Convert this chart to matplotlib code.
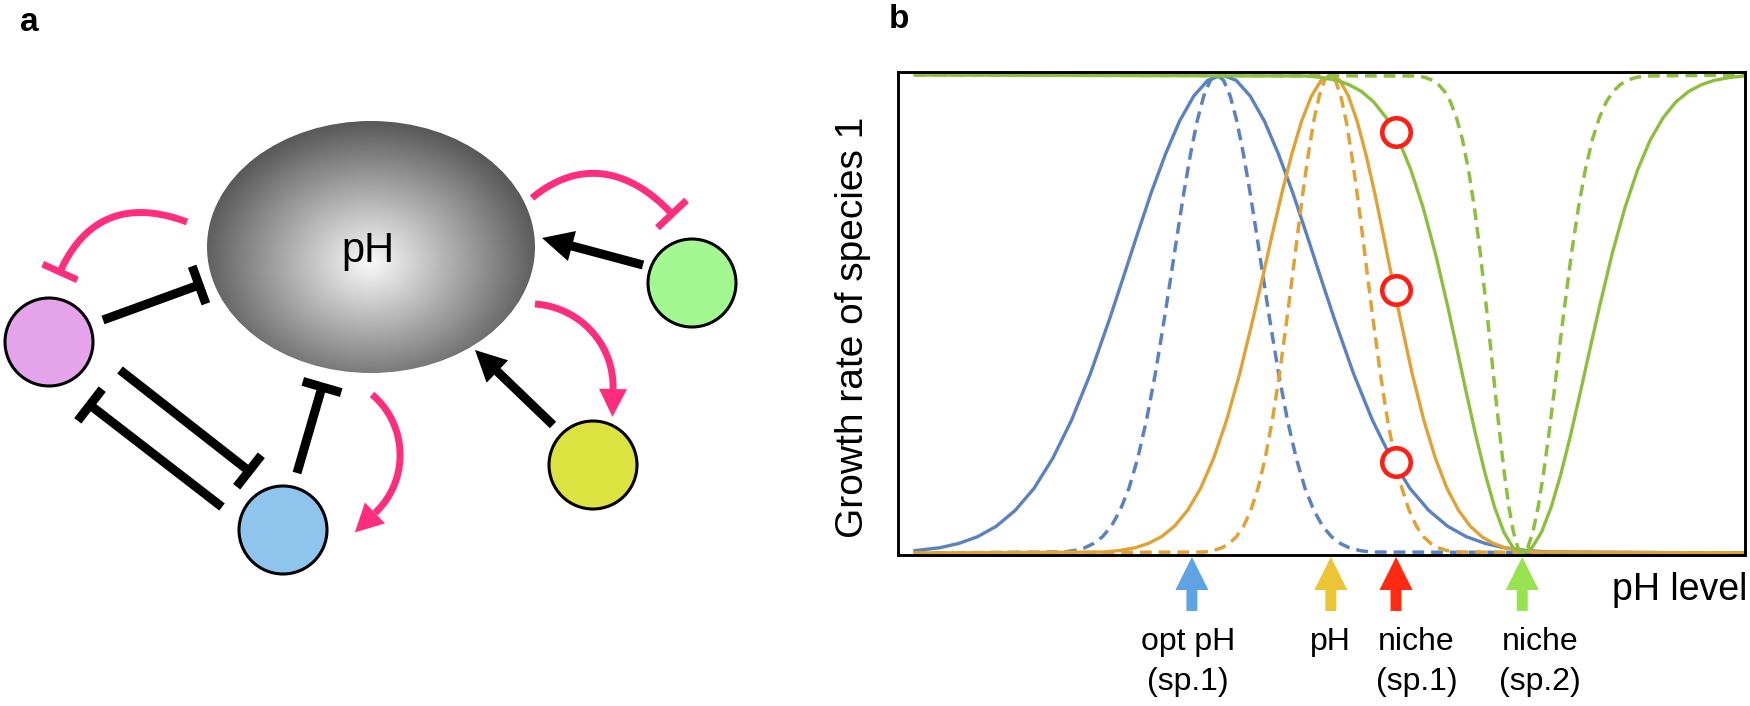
import numpy as np
import matplotlib
matplotlib.use("Agg")
import matplotlib.pyplot as plt
from matplotlib.patches import Ellipse, Circle, Polygon

plt.rcParams['font.family'] = ['Liberation Sans', 'DejaVu Sans']

## PANEL B CURVES (pH level in arbitrary units 0-10, growth rate 0-1)
# blue solid
bs_x = [0.2, 0.495, 0.717, 0.939, 1.161, 1.383, 1.605, 1.827, 2.049, 2.271, 2.493, 2.659, 2.826, 2.992, 3.159,
        3.325, 3.492, 3.658, 3.825, 3.992, 4.158, 4.325, 4.491, 4.658, 4.824, 4.991, 5.157, 5.379, 5.601,
        5.823, 6.045, 6.267, 6.489, 6.711, 6.933, 7.155, 7.433, 7.71, 10.0]
bs_y = [0.005, 0.011, 0.020, 0.034, 0.056, 0.089, 0.135, 0.198, 0.278, 0.375, 0.487, 0.576, 0.667, 0.755, 0.835,
        0.904, 0.956, 0.989, 1.0, 0.989, 0.956, 0.904, 0.835, 0.755, 0.667, 0.576, 0.487, 0.375, 0.278,
        0.198, 0.135, 0.089, 0.056, 0.034, 0.020, 0.011, 0.005, 0.002, 0.0]

# blue dashed
bd_x = [0.2, 1.946, 2.076, 2.206, 2.31, 2.414, 2.518, 2.622, 2.726, 2.83, 2.934, 3.038, 3.142, 3.22, 3.298,
        3.376, 3.454, 3.532, 3.61, 3.688, 3.766, 3.844, 3.922, 4.0, 4.078, 4.156, 4.234, 4.312, 4.39, 4.494,
        4.598, 4.702, 4.806, 4.91, 5.014, 5.118, 5.222, 5.326, 5.456, 5.586, 10.0]
bd_y = [0.0, 0.002, 0.005, 0.011, 0.020, 0.034, 0.056, 0.089, 0.135, 0.198, 0.278, 0.375, 0.487, 0.576, 0.667,
        0.755, 0.835, 0.904, 0.956, 0.989, 1.0, 0.989, 0.956, 0.904, 0.835, 0.755, 0.667, 0.576, 0.487, 0.375,
        0.278, 0.198, 0.135, 0.089, 0.056, 0.034, 0.020, 0.011, 0.005, 0.002, 0.0]

# orange solid
os_x = [0.2, 2.417, 2.61, 2.802, 2.956, 3.11, 3.264, 3.418, 3.572, 3.726, 3.88, 4.034, 4.188, 4.304, 4.419,
        4.535, 4.65, 4.766, 4.881, 4.997, 5.112, 5.215, 5.318, 5.42, 5.523, 5.626, 5.729, 5.831, 5.934, 6.071,
        6.208, 6.345, 6.482, 6.619, 6.756, 6.893, 7.03, 7.167, 7.338, 7.51, 10.0]
os_y = [0.0, 0.002, 0.005, 0.011, 0.020, 0.034, 0.056, 0.089, 0.135, 0.198, 0.278, 0.375, 0.487, 0.576, 0.667,
        0.755, 0.835, 0.904, 0.956, 0.989, 1.0, 0.989, 0.956, 0.904, 0.835, 0.755, 0.667, 0.576, 0.487, 0.375,
        0.278, 0.198, 0.135, 0.089, 0.056, 0.034, 0.020, 0.011, 0.005, 0.002, 0.0]

# orange dashed
od_x = [0.2, 3.613, 3.719, 3.825, 3.91, 3.995, 4.08, 4.165, 4.25, 4.335, 4.42, 4.505, 4.59, 4.654, 4.718,
        4.781, 4.845, 4.909, 4.973, 5.036, 5.10, 5.164, 5.228, 5.291, 5.355, 5.419, 5.483, 5.546, 5.61, 5.695,
        5.78, 5.865, 5.95, 6.035, 6.12, 6.205, 6.29, 6.375, 6.481, 6.588, 10.0]
od_y = [0.0, 0.002, 0.005, 0.011, 0.020, 0.034, 0.056, 0.089, 0.135, 0.198, 0.278, 0.375, 0.487, 0.576, 0.667,
        0.755, 0.835, 0.904, 0.956, 0.989, 1.0, 0.989, 0.956, 0.904, 0.835, 0.755, 0.667, 0.576, 0.487, 0.375,
        0.278, 0.198, 0.135, 0.089, 0.056, 0.034, 0.020, 0.011, 0.005, 0.002, 0.0]

# green solid
gs_x = [0.2, 4.81, 4.993, 5.176, 5.322, 5.469, 5.615, 5.762, 5.908, 6.054, 6.201, 6.347, 6.494, 6.603, 6.713,
        6.823, 6.933, 7.043, 7.152, 7.262, 7.372, 7.485, 7.599, 7.712, 7.826, 7.939, 8.052, 8.166, 8.279, 8.43,
        8.582, 8.733, 8.884, 9.035, 9.186, 9.338, 9.489, 9.64, 9.829, 10.0]
gs_y = [1.0, 0.998, 0.995, 0.989, 0.980, 0.966, 0.944, 0.911, 0.865, 0.802, 0.722, 0.625, 0.513, 0.424, 0.333,
        0.245, 0.165, 0.096, 0.044, 0.011, 0.0, 0.011, 0.044, 0.096, 0.165, 0.245, 0.333, 0.424, 0.513, 0.625,
        0.722, 0.802, 0.865, 0.911, 0.944, 0.966, 0.980, 0.989, 0.995, 0.998]

# green dashed
gd_x = [0.2, 6.133, 6.222, 6.31, 6.381, 6.452, 6.522, 6.593, 6.664, 6.735, 6.806, 6.876, 6.947, 7.0, 7.053,
        7.107, 7.16, 7.213, 7.266, 7.319, 7.372, 7.434, 7.496, 7.558, 7.62, 7.682, 7.744, 7.806, 7.868, 7.95,
        8.033, 8.115, 8.198, 8.281, 8.363, 8.446, 8.528, 8.611, 8.714, 8.818, 10.0]
gd_y = [1.0, 0.998, 0.995, 0.989, 0.980, 0.966, 0.944, 0.911, 0.865, 0.802, 0.722, 0.625, 0.513, 0.424, 0.333,
        0.245, 0.165, 0.096, 0.044, 0.011, 0.0, 0.011, 0.044, 0.096, 0.165, 0.245, 0.333, 0.424, 0.513, 0.625,
        0.722, 0.802, 0.865, 0.911, 0.944, 0.966, 0.980, 0.989, 0.995, 0.998, 1.0]

## RED NICHE CIRCLES
niche_x = 5.88
niche_y = [0.88, 0.55, 0.19]

## ARROWS UNDER THE AXIS
arrow_x = [3.47, 5.11, 5.88, 7.37]
arrow_colors = ['#5FA3E3', '#EBC536', '#FF2A12', '#97E352']
label_x = [3.42, 5.11, 6.12, 7.58]
label_top = ['opt pH', 'pH', 'niche', 'niche']
label_bottom = ['(sp.1)', '', '(sp.1)', '(sp.2)']

blue = '#5B82BF'
orange = '#DFA236'
green = '#8DBF3E'
red = '#FF1E14'
pink = '#FF2D7D'

fig = plt.figure(figsize=(17.5, 7.06), dpi=100)

## PANEL A: interaction diagram, drawn in pixel units
ax_a = fig.add_axes([0, 0, 880 / 1750, 1])


def unit(v):
    v = np.asarray(v, float)
    return v / np.hypot(v[0], v[1])


def bezier(p0, p1, p2, p3, n=80):
    t = np.linspace(0, 1, n)[:, None]
    p0, p1, p2, p3 = [np.asarray(p, float) for p in (p0, p1, p2, p3)]
    return (1 - t) ** 3 * p0 + 3 * (1 - t) ** 2 * t * p1 + 3 * (1 - t) * t ** 2 * p2 + t ** 3 * p3


def bar(end, direction, half, color, lw):
    d = unit(direction)
    n = np.array([-d[1], d[0]])
    a = np.asarray(end, float) + n * half
    b = np.asarray(end, float) - n * half
    ax_a.plot([a[0], b[0]], [a[1], b[1]], color=color, lw=lw, solid_capstyle='butt', zorder=3)


def head(base, direction, length, width, color):
    d = unit(direction)
    n = np.array([-d[1], d[0]])
    base = np.asarray(base, float)
    pts = [base + d * length, base + n * width / 2, base - n * width / 2]
    ax_a.add_patch(Polygon(pts, closed=True, facecolor=color, edgecolor='none', zorder=3))


# shaded pH ellipse
ex, ey, ea, eb = 371, 247, 164, 126
gx, gy = np.meshgrid(np.arange(ex - ea, ex + ea + 1), np.arange(ey - eb, ey + eb + 1))
dist = np.sqrt(((gx - 370) / 168.0) ** 2 + ((gy - 262) / 138.0) ** 2)
shade = np.clip(0.98 - 0.62 * dist, 0.3, 1)
im = ax_a.imshow(shade, cmap='gray', vmin=0, vmax=1, extent=[ex - ea, ex + ea, ey + eb, ey - eb],
                 interpolation='bilinear', aspect='auto', zorder=1)
clip = Ellipse((ex, ey), 2 * ea, 2 * eb, facecolor='none', edgecolor='none')
ax_a.add_patch(clip)
im.set_clip_path(clip)
ax_a.text(368, 262, 'pH', fontsize=30, ha='center', va='baseline', zorder=5)

# black inhibition lines
black_lw = 6.5
inhib = [((103, 320), (199, 285)), ((120, 370), (249, 471)), ((222, 507), (90, 405)), ((297, 473), (322, 387))]
for start, end in inhib:
    ax_a.plot([start[0], end[0]], [start[1], end[1]], color='k', lw=black_lw, solid_capstyle='butt', zorder=3)
    bar(end, np.subtract(end, start), 20, 'k', black_lw)

# black activation arrows
activ = [((643, 265), (542, 238)), ((553, 425), (475, 350))]
for start, tip in activ:
    d = unit(np.subtract(tip, start))
    base = np.asarray(tip, float) - d * 31
    ax_a.plot([start[0], base[0] + d[0] * 2], [start[1], base[1] + d[1] * 2], color='k', lw=black_lw,
              solid_capstyle='butt', zorder=3)
    head(base, d, 31, 31, 'k')

# pink curved feedbacks
pink_lw = 5
c = bezier((187, 222), (118, 196), (80, 227), (60, 272))
ax_a.plot(c[:, 0], c[:, 1], color=pink, lw=pink_lw, solid_capstyle='butt', zorder=3)
bar(c[-1], c[-1] - c[-2], 19, pink, pink_lw)

c = bezier((532, 198), (579.7, 158.3), (629.8, 168.7), (672, 214))
ax_a.plot(c[:, 0], c[:, 1], color=pink, lw=pink_lw, solid_capstyle='butt', zorder=3)
bar(c[-1], c[-1] - c[-2], 20, pink, pink_lw)

c = bezier((535, 304), (579.7, 307.1), (614.3, 344.3), (613, 389))
ax_a.plot(c[:, 0], c[:, 1], color=pink, lw=pink_lw, solid_capstyle='butt', zorder=3)
head(c[-1], c[-1] - c[-2], 28, 28, pink)

c = bezier((372, 394.5), (408.2, 425), (409.6, 480.4), (375, 513))
ax_a.plot(c[:, 0], c[:, 1], color=pink, lw=pink_lw, solid_capstyle='butt', zorder=3)
head(c[-1], c[-1] - c[-2], 28, 29, pink)

# species nodes
nodes = [((49, 342), '#E4A3EA'), ((283, 530), '#8FC5EC'), ((593, 465), '#DCE240'), ((692, 283), '#A4F892')]
for (x, y), col in nodes:
    ax_a.add_patch(Circle((x, y), 44, facecolor=col, edgecolor='k', lw=2.2, zorder=4))

ax_a.set_xlim(0, 880)
ax_a.set_ylim(706, 0)
ax_a.axis('off')

## PANEL B: growth rate vs pH
ax_b = fig.add_axes([898 / 1750, 151 / 706, 847 / 1750, 483 / 706])
ax_b.plot(bs_x, bs_y, color=blue, lw=2.4)
ax_b.plot(bd_x, bd_y, color=blue, lw=2.5, dashes=(3.4, 2.0))
ax_b.plot(os_x, os_y, color=orange, lw=2.4)
ax_b.plot(od_x, od_y, color=orange, lw=2.5, dashes=(3.4, 2.0))
ax_b.plot(gs_x, gs_y, color=green, lw=2.4)
ax_b.plot(gd_x, gd_y, color=green, lw=2.5, dashes=(3.4, 2.0))
ax_b.plot([niche_x] * len(niche_y), niche_y, 'o', ms=20.5, mfc='white', mec=red, mew=3.3, zorder=5)
ax_b.set_xlim(0, 10)
ax_b.set_ylim(-0.0042, 1.0063)
ax_b.set_xticks([])
ax_b.set_yticks([])
for s in ax_b.spines.values():
    s.set_linewidth(2.1)

for x, col in zip(arrow_x, arrow_colors):
    ax_b.annotate('', xy=(x, -0.004), xycoords=('data', 'axes fraction'), xytext=(0, -38.9),
                  textcoords='offset points', annotation_clip=False,
                  arrowprops=dict(arrowstyle='simple,head_length=23.8,head_width=23.8,tail_width=7.9',
                                  mutation_scale=1, color=col, lw=0, shrinkA=0, shrinkB=0))

trans = ax_b.get_xaxis_transform()
for x, top, bottom in zip(label_x, label_top, label_bottom):
    ax_b.text(x, -0.1967, top, transform=trans, fontsize=23, ha='center', va='baseline')
    ax_b.text(x, -0.2795, bottom, transform=trans, fontsize=23, ha='center', va='baseline')

ax_b.text(1.0024, -0.093, 'pH level', transform=ax_b.transAxes, fontsize=27, ha='right', va='baseline')
fig.text(853 / 1750, 1 - 327 / 706, 'Growth rate of species 1', fontsize=28, rotation=90,
         ha='center', va='center')

fig.text(20 / 1750, 1 - 31 / 706, 'a', fontsize=24, fontweight='bold', va='baseline')
fig.text(889 / 1750, 1 - 28 / 706, 'b', fontsize=24, fontweight='bold', va='baseline')

plt.savefig('out.png', dpi=100)
